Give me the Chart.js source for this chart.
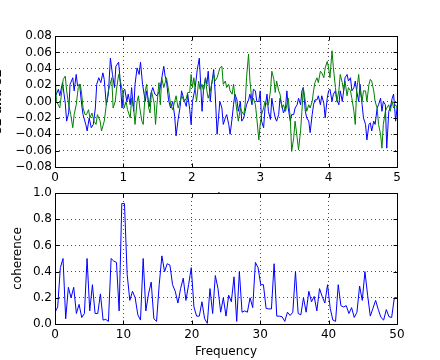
<!DOCTYPE html>
<html>
<head>
<meta charset="utf-8">
<script src="https://cdn.jsdelivr.net/npm/chart.js@4.4.0/dist/chart.umd.min.js"></script>
<style>
body{margin:0;background:#fff;width:440px;height:360px;overflow:hidden;position:relative}
canvas{position:absolute;left:0}
#top{top:0}
#bottom{top:180px;z-index:1}
</style>
</head>
<body>
<canvas id="top" width="440" height="200"></canvas>
<canvas id="bottom" width="440" height="180"></canvas>
<script>
// s1 (blue)
var blueT = [
  0,.01,.05,.07,.11,.15,.17,.20,.22,.26,
  .28,.31,.33,.36,.39,.41,.45,.47,.50,.53,
  .56,.59,.61,.64,.67,.70,.72,.75,.78,.81,
  .84,.87,.89,.93,.95,.98,1.00,1.02,1.05,1.07,
  1.10,1.12,1.15,1.17,1.20,1.23,1.25,1.28,1.32,1.34,
  1.38,1.40,1.43,1.46,1.49,1.53,1.55,1.59,1.61,1.63,
  1.66,1.69,1.72,1.75,1.77,1.80,1.83,1.85,1.88,1.92,
  1.94,1.97,1.99,2.01,2.05,2.08,2.11,2.15,2.17,2.20,
  2.22,2.24,2.27,2.29,2.32,2.34,2.37,2.39,2.41,2.44,
  2.46,2.49,2.51,2.54,2.56,2.59,2.61,2.63,2.66,2.68,
  2.71,2.73,2.76,2.78,2.80,2.83,2.85,2.88,2.90,2.93,
  2.95,2.98,3.00,3.02,3.05,3.07,3.10,3.12,3.15,3.17,
  3.20,3.22,3.24,3.27,3.29,3.32,3.34,3.37,3.39,3.41,
  3.44,3.46,3.49,3.51,3.54,3.56,3.59,3.61,3.63,3.66,
  3.68,3.71,3.73,3.76,3.78,3.80,3.83,3.85,3.88,3.90,
  3.93,3.95,3.98,4.00,4.02,4.05,4.07,4.10,4.12,4.15,
  4.17,4.20,4.22,4.24,4.27,4.29,4.32,4.34,4.37,4.39,
  4.41,4.44,4.46,4.49,4.51,4.54,4.56,4.59,4.61,4.63,
  4.66,4.68,4.71,4.73,4.76,4.78,4.80,4.83,4.85,4.88,
  4.90,4.93,4.95,4.98,5.00
];
var blueV = [
  0,.007,.015,.007,.023,-.002,-.024,-.014,.021,.029,
  .013,.033,.019,.021,-.004,-.016,-.028,-.036,-.020,-.032,
  -.028,-.008,.021,.029,.023,.035,.027,-.004,.009,.053,
  .033,.017,.043,.048,.029,-.008,.013,.015,0,.009,
  -.004,.017,-.012,.021,.041,.033,.048,.021,0,.013,
  -.006,.009,.017,.009,.007,.013,.023,.043,.031,.025,
  .002,-.008,0,-.018,-.042,-.022,-.006,.013,.004,-.006,
  .009,-.010,-.028,0,.017,.039,.053,-.012,.013,.029,
  .021,.037,0,.021,.039,.013,-.040,-.020,0,-.008,
  -.028,-.020,-.016,-.028,-.040,-.020,-.004,.009,.002,-.012,
  0,-.024,-.020,-.012,-.004,.002,.009,-.004,.015,.013,
  0,0,.013,-.024,-.032,-.008,.009,-.012,-.022,.004,
  -.012,-.020,-.024,-.016,.004,-.006,-.014,-.008,.013,-.008,
  -.024,-.016,-.016,-.008,-.004,.004,-.004,.013,.017,-.012,
  -.020,-.024,-.038,-.016,-.004,.002,.002,.007,-.004,.007,
  -.002,-.020,.004,.013,.015,0,.009,.013,.002,-.004,
  .013,0,.013,.029,.033,.025,.029,.013,.017,.025,
  .013,0,.021,-.004,-.020,-.028,-.047,-.028,-.026,-.036,
  -.024,-.028,-.008,-.004,.004,-.012,0,-.004,-.057,-.012,
  -.008,.004,.009,-.024,-.008
];
// s2 (green)
var greenT = [
  0,.02,.05,.07,.10,.12,.15,.17,.20,.23,
  .26,.28,.31,.34,.37,.39,.41,.44,.46,.49,
  .51,.54,.57,.60,.62,.66,.68,.72,.75,.78,
  .80,.83,.85,.88,.90,.93,.96,.99,1.01,1.04,
  1.06,1.10,1.12,1.15,1.17,1.20,1.22,1.24,1.27,1.29,
  1.32,1.34,1.37,1.39,1.41,1.45,1.47,1.49,1.52,1.54,
  1.56,1.59,1.61,1.63,1.67,1.69,1.72,1.75,1.77,1.80,
  1.83,1.85,1.89,1.92,1.94,1.97,1.99,2.01,2.03,2.07,
  2.10,2.12,2.15,2.17,2.20,2.22,2.24,2.27,2.29,2.32,
  2.34,2.37,2.39,2.41,2.44,2.46,2.49,2.51,2.54,2.56,
  2.59,2.61,2.63,2.66,2.68,2.71,2.73,2.76,2.78,2.80,
  2.83,2.85,2.88,2.90,2.93,2.95,2.98,3.00,3.02,3.05,
  3.07,3.10,3.12,3.15,3.17,3.20,3.22,3.24,3.27,3.29,
  3.32,3.34,3.37,3.39,3.41,3.44,3.46,3.49,3.51,3.54,
  3.56,3.59,3.61,3.63,3.66,3.68,3.71,3.73,3.76,3.78,
  3.80,3.83,3.85,3.88,3.90,3.93,3.95,3.98,4.00,4.02,
  4.05,4.07,4.10,4.12,4.15,4.17,4.20,4.22,4.24,4.27,
  4.29,4.32,4.34,4.37,4.39,4.41,4.44,4.46,4.49,4.51,
  4.54,4.56,4.59,4.61,4.63,4.66,4.68,4.71,4.73,4.76,
  4.78,4.80,4.83,4.85,4.88,4.90,4.93,4.95,4.98,5.00
];
var greenV = [
  .037,0,-.004,-.008,.013,.027,.031,.013,-.004,-.016,
  -.032,-.016,-.004,.017,.021,.009,-.008,-.016,-.016,-.010,
  -.020,-.014,-.024,-.028,-.016,-.024,-.036,-.024,-.004,.013,
  .019,.029,-.008,0,.015,.033,.023,.011,-.008,0,
  -.010,-.020,.004,-.008,-.028,0,.007,-.008,-.024,-.028,
  .013,.021,-.008,-.014,.013,-.002,-.028,-.004,.023,-.004,
  .029,.017,.023,.029,.009,-.004,-.010,0,.007,-.008,
  0,.007,0,.004,.011,.011,.033,.017,.029,0,
  .025,.015,.021,.013,.029,.013,.004,.013,.021,.033,
  .025,.029,.035,.041,.043,.021,.025,.017,.021,.013,
  .009,.021,.007,-.012,-.024,-.008,-.012,-.016,-.004,.029,
  .058,.025,0,.004,-.004,-.020,-.047,-.028,-.016,-.008,
  0,-.004,-.004,.013,.037,.027,.011,.025,.013,.009,
  -.008,-.004,-.012,-.004,.004,-.020,-.061,-.044,-.024,-.044,
  -.059,-.036,-.012,.017,0,-.012,-.004,-.008,0,.013,
  .023,.029,.023,.037,.035,.029,.041,.049,.041,.029,
  .062,.041,.017,0,.013,.033,.023,.013,.025,.007,
  .017,.013,.004,-.012,-.028,.013,.033,.013,0,.013,
  .013,0,.021,.027,.025,.013,0,-.008,-.028,-.040,
  -.057,-.028,-.012,-.008,-.004,-.012,0,-.008,-.004,-.008
];
// coherence, one value per frequency bin (0..50, step 100/256)
var freqStep = 100 / 256;
var coh = [
  .09,.13,.43,.50,.04,.28,.20,.28,.08,.15,
  .05,.08,.50,.10,.30,.08,.08,.23,.03,.035,
  .02,.50,.48,.47,.10,.92,.92,.38,.18,.25,
  .20,.07,.03,.50,.10,.23,.32,.04,.02,.30,
  .52,.40,.46,.45,.30,.25,.16,.27,.35,.18,
  .30,.43,.13,.06,.06,.17,.04,.005,.27,.08,
  .37,.27,.09,.20,.06,.22,.17,.36,.02,.40,
  .09,.10,.09,.20,.125,.47,.43,.30,.30,.12,
  .115,.115,.46,.06,.06,.055,.02,.09,.065,.09,
  .40,.08,.07,.20,.09,.25,.17,.21,.10,.27,
  .21,.16,.30,.12,.03,.02,.30,.14,.13,.14,
  .08,.125,.05,.09,.29,.18,.40,.22,.06,.12,
  .18,.11,.05,.03,.11,.055,.05,.20,.20
];

var topTicksY = [-0.08, 0.08, 0.02];
var botTicksY = [0, 1, 0.2];

Chart.defaults.font.family = 'DejaVu Sans';
Chart.defaults.font.size = 12;
Chart.defaults.color = '#000';
Chart.defaults.animation = false;

function pairs(xs, ys) {
  return xs.map(function(x, i){ return {x: x, y: ys[i]}; });
}

var framePlugin = {
  id: 'frame',
  beforeDraw: function(chart, args, opts) {
    if (!opts.fill) return;
    var a = chart.chartArea, ctx = chart.ctx;
    ctx.save();
    ctx.fillStyle = '#fff';
    ctx.fillRect(a.left, a.top, a.right - a.left, a.bottom - a.top);
    ctx.restore();
  },
  afterDraw: function(chart) {
    var a = chart.chartArea, ctx = chart.ctx;
    var xs = chart.scales.x, ys = chart.scales.y;
    var l = Math.round(a.left) + 0.5, r = Math.round(a.right) + 0.5;
    var t = Math.round(a.top) + 0.5, b = Math.round(a.bottom) + 0.5;
    ctx.save();
    ctx.strokeStyle = '#000';
    ctx.lineWidth = 1;
    ctx.beginPath();
    ctx.rect(l, t, r - l, b - t);
    xs.ticks.forEach(function(tk){
      var x = Math.round(xs.getPixelForValue(tk.value)) + 0.5;
      ctx.moveTo(x, b); ctx.lineTo(x, b - 4);
      ctx.moveTo(x, t); ctx.lineTo(x, t + 4);
    });
    ys.ticks.forEach(function(tk){
      var y = Math.round(ys.getPixelForValue(tk.value)) + 0.5;
      ctx.moveTo(l, y); ctx.lineTo(l + 4, y);
      ctx.moveTo(r, y); ctx.lineTo(r - 4, y);
    });
    ctx.stroke();
    ctx.restore();
  }
};

var gridStyle = {
  color: 'rgba(0,0,0,0.7)',
  lineWidth: 1,
  drawTicks: false
};

new Chart(document.getElementById('top'), {
  type: 'line',
  data: {
    datasets: [
      {label: 's1', data: pairs(blueT, blueV), borderColor: '#0000ff', borderWidth: 1, pointRadius: 0, tension: 0, order: 1},
      {label: 's2', data: pairs(greenT, greenV), borderColor: '#008000', borderWidth: 1, pointRadius: 0, tension: 0, order: 0}
    ]
  },
  options: {
    responsive: false,
    layout: {padding: {top: 36, right: 43, left: 0, bottom: 0}},
    plugins: {legend: {display: false}, tooltip: {enabled: false}, frame: {fill: false}},
    scales: {
      x: {
        type: 'linear', min: 0, max: 5,
        ticks: {stepSize: 1, padding: 4, maxRotation: 0, autoSkip: false},
        grid: gridStyle, border: {display: false, dash: [1, 3]},
        title: {display: true, text: 'time', padding: {top: 0, bottom: -6}},
        afterFit: function(s){ s.height = 33; }
      },
      y: {
        min: topTicksY[0], max: topTicksY[1],
        ticks: {stepSize: topTicksY[2], padding: 3, autoSkip: false,
          callback: function(v){ return v.toFixed(2).replace('-', '\u2212').replace('\u22120.00', '0.00'); }},
        grid: gridStyle, border: {display: false, dash: [1, 3]},
        title: {display: true, text: 's1 and s2', font: {weight: 'bold'}, padding: {top: -9, bottom: 0}},
        afterFit: function(s){ s.width = 55; }
      }
    }
  },
  plugins: [framePlugin]
});

new Chart(document.getElementById('bottom'), {
  type: 'line',
  data: {
    datasets: [
      {label: 'coherence', data: coh.map(function(c, i){ return {x: i * freqStep, y: c}; }),
       borderColor: '#0000ff', borderWidth: 1, pointRadius: 0, tension: 0}
    ]
  },
  options: {
    responsive: false,
    layout: {padding: {top: 13, right: 43, left: 0, bottom: 0}},
    plugins: {legend: {display: false}, tooltip: {enabled: false}, frame: {fill: true}},
    scales: {
      x: {
        type: 'linear', min: 0, max: 50,
        ticks: {stepSize: 10, padding: 4, maxRotation: 0, autoSkip: false},
        grid: gridStyle, border: {display: false, dash: [1, 3]},
        title: {display: true, text: 'Frequency', padding: {top: 0, bottom: 1}},
        afterFit: function(s){ s.height = 36; }
      },
      y: {
        min: botTicksY[0], max: botTicksY[1],
        ticks: {stepSize: botTicksY[2], padding: 3, autoSkip: false,
          callback: function(v){ return v.toFixed(1); }},
        grid: gridStyle, border: {display: false, dash: [1, 3]},
        title: {display: true, text: 'coherence', padding: {top: 10.8, bottom: 0}},
        afterFit: function(s){ s.width = 55; }
      }
    }
  },
  plugins: [framePlugin]
});
</script>
</body>
</html>
